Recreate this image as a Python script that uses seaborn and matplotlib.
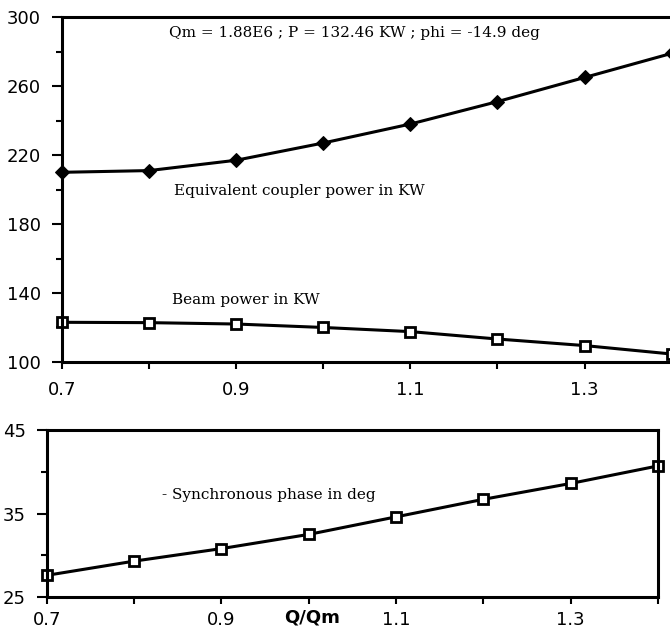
import numpy as np
import pandas as pd
import matplotlib
matplotlib.use("Agg")
import matplotlib.pyplot as plt
import seaborn as sns
from matplotlib.ticker import MultipleLocator

# Data
q_ratio = [0.7, 0.8, 0.9, 1.0, 1.1, 1.2, 1.3, 1.4]
coupler_power = [210, 211, 217, 227, 238, 251, 265, 279]
beam_power = [123, 122.8, 122, 120, 117.6, 113.3, 109.5, 104.6]
sync_phase = [27.6, 29.3, 30.8, 32.5, 34.6, 36.7, 38.6, 40.7]

x_tick_labels = ["0.7", "", "0.9", "", "1.1", "", "1.3", ""]

sns.set_style("ticks")
plt.rcParams["font.family"] = ["DejaVu Sans"]
plt.rcParams["text.color"] = "black"

df = pd.DataFrame({"q": q_ratio, "coupler": coupler_power,
                   "beam": beam_power, "phase": sync_phase})

fig = plt.figure(figsize=(6.7, 6.35), dpi=100)
ax1 = fig.add_axes([0.0925, 0.430, 0.91, 0.543])
ax2 = fig.add_axes([0.070, 0.0598, 0.912, 0.263])

serif = ["DejaVu Serif"]

# top panel
sns.lineplot(data=df, x="q", y="coupler", ax=ax1, color="black", lw=2.2,
             marker="D", markersize=7, markerfacecolor="black",
             markeredgecolor="black")
sns.lineplot(data=df, x="q", y="beam", ax=ax1, color="black", lw=2.2,
             marker="s", markersize=7.5, markerfacecolor="white",
             markeredgecolor="black", markeredgewidth=2)
ax1.set_xlim(0.7, 1.4)
ax1.set_ylim(100, 300)
ax1.set_yticks([100, 140, 180, 220, 260, 300])
ax1.yaxis.set_minor_locator(MultipleLocator(20))
ax1.text(0.48, 0.955, "Qm = 1.88E6 ; P = 132.46 KW ; phi = -14.9 deg",
         transform=ax1.transAxes, ha="center", va="center",
         fontsize=11, family=serif, color="black")
ax1.text(0.183, 0.497, "Equivalent coupler power in KW",
         transform=ax1.transAxes, ha="left", va="center",
         fontsize=11, family=serif, color="black")
ax1.text(0.181, 0.18, "Beam power in KW",
         transform=ax1.transAxes, ha="left", va="center",
         fontsize=11, family=serif, color="black")
ax1.spines["right"].set_visible(False)

# bottom panel
sns.lineplot(data=df, x="q", y="phase", ax=ax2, color="black", lw=2.2,
             marker="s", markersize=7.5, markerfacecolor="white",
             markeredgecolor="black", markeredgewidth=2)
ax2.set_xlim(0.7, 1.4)
ax2.set_ylim(25, 45)
ax2.set_yticks([25, 35, 45])
ax2.yaxis.set_minor_locator(MultipleLocator(5))
ax2.text(0.188, 0.61, "- Synchronous phase in deg",
         transform=ax2.transAxes, ha="left", va="center",
         fontsize=11, family=serif, color="black")
ax2.text(1.004, -0.12, "Q/Qm", transform=ax2.get_xaxis_transform(),
         ha="center", va="center", fontsize=13, fontweight="bold",
         color="black")

for ax, xpad in ((ax1, 9), (ax2, 5)):
    ax.set_xticks(q_ratio)
    ax.set_xticklabels(x_tick_labels)
    ax.set_xlabel("")
    ax.set_ylabel("")
    ax.tick_params(axis="y", which="major", direction="out", length=7,
                   width=1.5, labelsize=13, pad=8, color="black",
                   labelcolor="black")
    ax.tick_params(axis="x", which="major", direction="out", length=5,
                   width=1.5, labelsize=13, pad=xpad, color="black",
                   labelcolor="black")
    ax.tick_params(axis="y", which="minor", direction="out", length=4,
                   width=1.5, color="black")
    for s in ax.spines.values():
        s.set_linewidth(2.2)
        s.set_color("black")
    for line in ax.get_lines():
        line.set_clip_on(False)

fig.savefig("out.png", dpi=100)
